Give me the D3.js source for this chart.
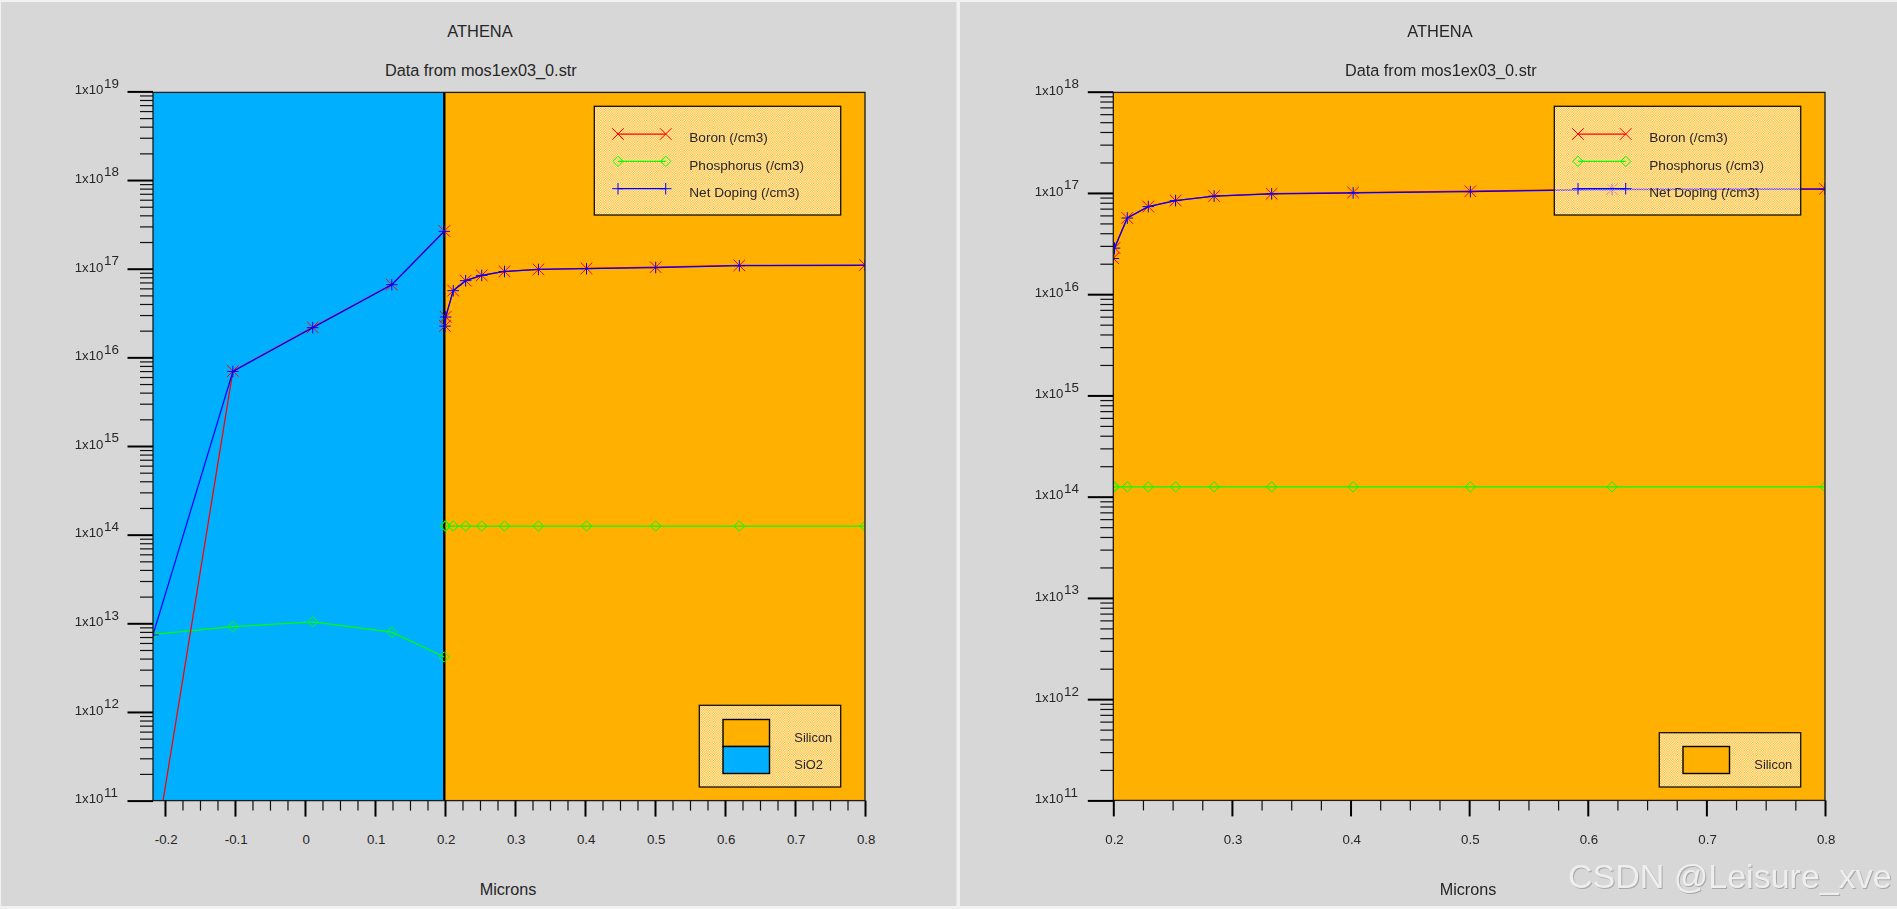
<!DOCTYPE html>
<html>
<head>
<meta charset="utf-8">
<title>ATHENA</title>
<script src="https://cdn.jsdelivr.net/npm/d3@7"></script>
<style>
  html, body { margin: 0; padding: 0; background: #f1f1f1; overflow: hidden; }
  svg { display: block; filter: blur(0.35px); }
  text { font-family: "Liberation Sans", Arial, sans-serif; fill: #262626; }
</style>
</head>
<body>
<div id="chart"></div>
<script>
// values
const oxideX = [-0.2171, -0.103, 0.011, 0.124, 0.199];
const oxideBoron = [2e10, 7.0e15, 2.18e16, 6.62e16, 2.66e17];
const oxidePhosphorus = [7.5e12, 9.15e12, 1.04e13, 7.95e12, 4.17e12];
const oxideNet = [7.4e12, 6.93e15, 2.16e16, 6.6e16, 2.64e17];

const siliconX = [0.2, 0.201, 0.2118, 0.2295, 0.2525, 0.285, 0.3335, 0.4022, 0.501, 0.6205, 0.8];
const siliconBoron = [2.26e16, 2.86e16, 5.66e16, 7.34e16, 8.42e16, 9.32e16, 9.82e16, 1.01e17, 1.04e17, 1.09e17, 1.1e17];
const siliconPhosphorus = [1.25e14, 1.25e14, 1.25e14, 1.25e14, 1.25e14, 1.25e14, 1.25e14, 1.25e14, 1.25e14, 1.25e14, 1.25e14];
const siliconNet = [2.25e16, 2.85e16, 5.65e16, 7.33e16, 8.4e16, 9.3e16, 9.8e16, 1.0e17, 1.03e17, 1.08e17, 1.09e17];

const leftXTicks = [-0.2, -0.1, 0, 0.1, 0.2, 0.3, 0.4, 0.5, 0.6, 0.7, 0.8];
const rightXTicks = [0.2, 0.3, 0.4, 0.5, 0.6, 0.7, 0.8];
const leftExponents = [11, 12, 13, 14, 15, 16, 17, 18, 19];
const rightExponents = [11, 12, 13, 14, 15, 16, 17, 18];

const seriesNames = ["Boron (/cm3)", "Phosphorus (/cm3)", "Net Doping (/cm3)"];
const seriesColors = ["#ff0000", "#00ff00", "#0000ff"];

const SILICON = "#ffb000";
const OXIDE = "#00b0ff";

const svg = d3.select("#chart").append("svg")
    .attr("width", 1897)
    .attr("height", 909);

// legends are dithered: white dots with holes, so the curves show through
const dither = svg.append("defs").append("pattern")
    .attr("id", "dither")
    .attr("patternUnits", "userSpaceOnUse")
    .attr("width", 2.42)
    .attr("height", 2.42);
dither.append("rect").attr("width", 1.21).attr("height", 1.21).attr("fill", "#fff");
dither.append("rect").attr("x", 1.21).attr("y", 1.21).attr("width", 1.21).attr("height", 1.21).attr("fill", "#fff");

// marker shapes, one per series
function drawMarker(g, kind, px, py, color) {
    const path = d3.path();
    if (kind === 0) {
        path.moveTo(px - 5.8, py - 5.8); path.lineTo(px + 5.8, py + 5.8);
        path.moveTo(px - 5.8, py + 5.8); path.lineTo(px + 5.8, py - 5.8);
    } else if (kind === 1) {
        path.moveTo(px - 5.2, py); path.lineTo(px, py - 5.2);
        path.lineTo(px + 5.2, py); path.lineTo(px, py + 5.2);
        path.closePath();
    } else {
        path.moveTo(px - 5.8, py); path.lineTo(px + 5.8, py);
        path.moveTo(px, py - 5.8); path.lineTo(px, py + 5.8);
    }
    g.append("path")
        .attr("d", path.toString())
        .attr("fill", "none")
        .attr("stroke", color)
        .attr("stroke-width", 1);
}

function drawCurve(g, xs, ys, kind, x, y) {
    const line = d3.line()
        .x((d, i) => x(xs[i]))
        .y(d => y(d));
    g.append("path")
        .attr("d", line(ys))
        .attr("fill", "none")
        .attr("stroke", seriesColors[kind])
        .attr("stroke-width", 1.25);
    ys.forEach((v, i) => drawMarker(g, kind, x(xs[i]), y(v), seriesColors[kind]));
}

function drawPanel(opts) {
    const { id, x, y, xTicks, exponents, dx, showOxide } = opts;
    const [left, right] = x.range();
    const bottom = y.range()[0];
    const top = 92.4; // the frame sits a touch under the top tick

    const g = svg.append("g");

    g.append("text")
        .attr("x", 480 + dx).attr("y", 36.7)
        .attr("text-anchor", "middle")
        .style("font-size", "16.4px")
        .text("ATHENA");
    g.append("text")
        .attr("x", 480.8 + dx).attr("y", 75.7)
        .attr("text-anchor", "middle")
        .style("font-size", "16.3px")
        .text("Data from mos1ex03_0.str");
    g.append("text")
        .attr("x", 508 + dx).attr("y", 895)
        .attr("text-anchor", "middle")
        .style("font-size", "16.2px")
        .text("Microns");

    // material regions
    g.append("rect")
        .attr("x", left).attr("y", top)
        .attr("width", right - left).attr("height", bottom - top)
        .attr("fill", SILICON);
    if (showOxide) {
        g.append("rect")
            .attr("x", left).attr("y", top)
            .attr("width", x(0.199) - left).attr("height", bottom - top)
            .attr("fill", OXIDE);
        g.append("line")
            .attr("x1", x(0.199)).attr("x2", x(0.199))
            .attr("y1", top).attr("y2", bottom)
            .attr("stroke", "#000")
            .attr("stroke-width", 2.4);
    }

    // curves, clipped to the plot
    svg.select("defs").append("clipPath").attr("id", "clip" + id)
        .append("rect")
        .attr("x", left).attr("y", top)
        .attr("width", right - left).attr("height", bottom - top);
    const curves = g.append("g").attr("clip-path", `url(#clip${id})`);
    [1, 0, 2].forEach(kind => {
        if (showOxide) {
            drawCurve(curves, oxideX, [oxideBoron, oxidePhosphorus, oxideNet][kind], kind, x, y);
        }
        drawCurve(curves, siliconX, [siliconBoron, siliconPhosphorus, siliconNet][kind], kind, x, y);
    });

    g.append("rect")
        .attr("x", left).attr("y", top)
        .attr("width", right - left).attr("height", bottom - top)
        .attr("fill", "none")
        .attr("stroke", "#1c1c1c")
        .attr("stroke-width", 1.3);

    // x axis
    const xMinor = [];
    xTicks.slice(0, -1).forEach(t => {
        [1, 2, 3].forEach(k => xMinor.push(t + k * 0.025));
    });
    g.append("g")
        .attr("transform", `translate(0,${bottom})`)
        .call(d3.axisBottom(x).tickValues(xMinor).tickSize(10).tickFormat(""))
        .call(a => a.select(".domain").remove())
        .call(a => a.selectAll("line").attr("stroke", "#111").attr("stroke-width", 1.2));
    g.append("g")
        .attr("transform", `translate(0,${bottom})`)
        .call(d3.axisBottom(x).tickValues(xTicks).tickSize(16).tickPadding(18).tickFormat(d => String(d)))
        .call(a => a.select(".domain").remove())
        .call(a => a.selectAll("line").attr("stroke", "#000").attr("stroke-width", 2))
        .call(a => a.selectAll("text")
            .attr("dx", "0.7")
            .style("font-family", '"Liberation Sans", Arial, sans-serif')
            .style("font-size", "13.3px")
            .style("fill", "#262626"));

    // y axis
    const yMinor = [];
    exponents.slice(0, -1).forEach(e => {
        d3.range(2, 10).forEach(m => yMinor.push(m * Math.pow(10, e)));
    });
    g.append("g")
        .attr("transform", `translate(${left},0)`)
        .call(d3.axisLeft(y).tickValues(yMinor).tickSize(13).tickFormat(""))
        .call(a => a.select(".domain").remove())
        .call(a => a.selectAll("line").attr("stroke", "#111").attr("stroke-width", 1.2));
    g.append("g")
        .attr("transform", `translate(${left},0)`)
        .call(d3.axisLeft(y).tickValues(exponents.map(e => Math.pow(10, e))).tickSize(25.5).tickFormat(""))
        .call(a => a.select(".domain").remove())
        .call(a => a.selectAll("line").attr("stroke", "#000").attr("stroke-width", 2));

    exponents.forEach(e => {
        const ty = y(Math.pow(10, e));
        g.append("text")
            .attr("x", 103.4 + dx).attr("y", ty + 2.8)
            .attr("text-anchor", "end")
            .style("font-size", "13.2px")
            .text("1x10");
        g.append("text")
            .attr("x", 104 + dx).attr("y", ty - 3.6)
            .style("font-size", "13.4px")
            .text(e);
    });

    // curve legend
    const legendX = 594.3 + dx;
    g.append("rect")
        .attr("x", legendX).attr("y", 106.3)
        .attr("width", 246.4).attr("height", 108.7)
        .attr("fill", "url(#dither)");
    seriesNames.forEach((name, i) => {
        const ly = 134 + i * 27.35;
        g.append("line")
            .attr("x1", legendX + 23.7).attr("x2", legendX + 71.4)
            .attr("y1", ly).attr("y2", ly)
            .attr("stroke", seriesColors[i])
            .attr("stroke-width", 1.25);
        drawMarker(g, i, legendX + 23.7, ly, seriesColors[i]);
        drawMarker(g, i, legendX + 71.4, ly, seriesColors[i]);
        g.append("text")
            .attr("x", legendX + 95).attr("y", ly + 8.4)
            .style("font-size", "13.6px")
            .text(name);
    });
    g.append("rect")
        .attr("x", legendX).attr("y", 106.3)
        .attr("width", 246.4).attr("height", 108.7)
        .attr("fill", "none")
        .attr("stroke", "#111")
        .attr("stroke-width", 1.3);

    // material legend
    const boxX = 699.3 + dx;
    const materials = opts.materials;
    const boxTop = materials.length === 2 ? 705.3 : 732.7;
    const swatchTop = materials.length === 2 ? 719.5 : 746.5;
    g.append("rect")
        .attr("x", boxX).attr("y", boxTop)
        .attr("width", 141.4).attr("height", 787 - boxTop)
        .attr("fill", "url(#dither)");
    g.append("rect")
        .attr("x", boxX).attr("y", boxTop)
        .attr("width", 141.4).attr("height", 787 - boxTop)
        .attr("fill", "none")
        .attr("stroke", "#111")
        .attr("stroke-width", 1.3);
    materials.forEach((m, i) => {
        g.append("rect")
            .attr("x", boxX + 23.7).attr("y", swatchTop + i * 27)
            .attr("width", 46.5).attr("height", 27)
            .attr("fill", m.color)
            .attr("stroke", "#000")
            .attr("stroke-width", 1.4);
        g.append("text")
            .attr("x", boxX + 95).attr("y", swatchTop + 22 + i * 27.3)
            .style("font-size", "12.9px")
            .text(m.name);
    });
}

// window backgrounds
svg.append("rect").attr("x", 1).attr("y", 2).attr("width", 955.5).attr("height", 904).attr("fill", "#d7d7d7");
svg.append("rect").attr("x", 960).attr("y", 2).attr("width", 937).attr("height", 904).attr("fill", "#d7d7d7");

drawPanel({
    id: "L",
    x: d3.scaleLinear().domain([-0.2171, 0.8]).range([153, 865]),
    y: d3.scaleLog().domain([1e11, 1e19]).range([800.6, 91.4]),
    xTicks: leftXTicks,
    exponents: leftExponents,
    dx: 0,
    showOxide: true,
    materials: [{ name: "Silicon", color: SILICON }, { name: "SiO2", color: OXIDE }]
});

drawPanel({
    id: "R",
    x: d3.scaleLinear().domain([0.2, 0.8]).range([1113.3, 1825]),
    y: d3.scaleLog().domain([1e11, 1e18]).range([800.4, 91.7]),
    xTicks: rightXTicks,
    exponents: rightExponents,
    dx: 960,
    showOxide: false,
    materials: [{ name: "Silicon", color: SILICON }]
});

// watermark
svg.append("text")
    .attr("x", 1568).attr("y", 888)
    .style("font-size", "34px")
    .style("fill", "#eeeeee")
    .style("filter", "drop-shadow(1px 1px 0.6px #a8a8a8)")
    .text("CSDN @Leisure_xve");
</script>
</body>
</html>
